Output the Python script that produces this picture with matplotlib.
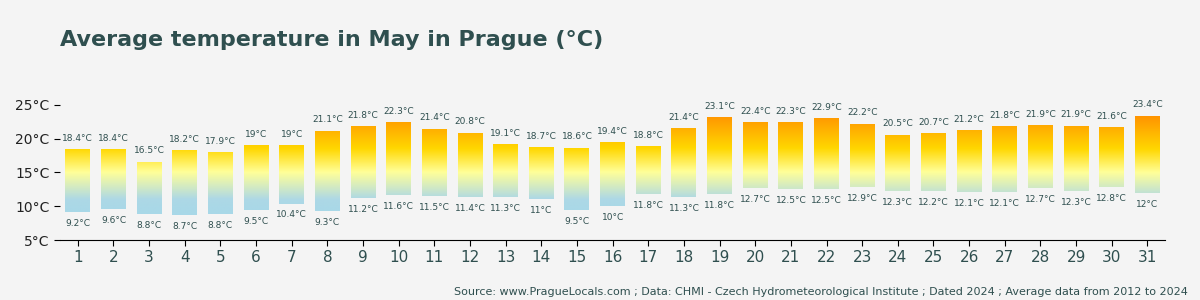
import numpy as np
import matplotlib
matplotlib.use("Agg")
import matplotlib.pyplot as plt
from matplotlib.colors import LinearSegmentedColormap, Normalize

days = list(range(1, 32))
t_max = [18.4, 18.4, 16.5, 18.2, 17.9, 19, 19, 21.1, 21.8, 22.3, 21.4, 20.8, 19.1, 18.7, 18.6,
         19.4, 18.8, 21.4, 23.1, 22.4, 22.3, 22.9, 22.2, 20.5, 20.7, 21.2, 21.8, 21.9, 21.9, 21.6, 23.4]
t_min = [9.2, 9.6, 8.8, 8.7, 8.8, 9.5, 10.4, 9.3, 11.2, 11.6, 11.5, 11.4, 11.3, 11, 9.5,
         10, 11.8, 11.3, 11.8, 12.7, 12.5, 12.5, 12.9, 12.3, 12.2, 12.1, 12.1, 12.7, 12.3, 12.8, 12]
y_ticks = [5, 10, 15, 20, 25]
title = "Average temperature in May in Prague (°C)"
source = ("Source: www.PragueLocals.com ; Data: CHMI - Czech Hydrometeorological Institute ; "
          "Dated 2024 ; Average data from 2012 to 2024")

bg = "#f4f4f4"
dark = "#2f4f4f"

tmin_c, tmax_c = 9.0, 24.0
def pos(v):
    return (v - tmin_c) / (tmax_c - tmin_c)
cmap = LinearSegmentedColormap.from_list("temp", [
    (0.0, "#a8d8e8"),
    (pos(11.0), "#add8e6"),
    (pos(15.0), "#ffff99"),
    (pos(18.5), "#ffd700"),
    (1.0, "#ff8c00"),
])
norm = Normalize(tmin_c, tmax_c)

fig = plt.figure(figsize=(12, 3), dpi=100, facecolor=bg)
ax = fig.add_axes([0.05, 0.2, 0.921, 0.495])
ax.set_facecolor(bg)

width = 0.7
grad = np.linspace(0, 1, 256).reshape(-1, 1)
for d, lo, hi in zip(days, t_min, t_max):
    vals = lo + grad * (hi - lo)
    ax.imshow(vals, cmap=cmap, norm=norm, origin="lower", aspect="auto",
              extent=[d - width / 2, d + width / 2, lo, hi], interpolation="bilinear", zorder=2)
    ax.annotate(f"{hi:g}°C", (d, hi), xytext=(0, 5), textcoords="offset points",
                ha="center", va="bottom", fontsize=6.5, color=dark)
    ax.annotate(f"{lo:g}°C", (d, lo), xytext=(0, -5), textcoords="offset points",
                ha="center", va="top", fontsize=6.5, color=dark)

ax.set_xlim(0.5, 31.5)
ax.set_ylim(5, 27)
ax.set_xticks(days)
ax.set_xticklabels([str(d) for d in days], fontsize=11, color=dark)
ax.set_yticks(y_ticks)
ax.set_yticklabels([f"{v}°C" for v in y_ticks], fontsize=10, color="#222222")
for s in ["top", "right", "left"]:
    ax.spines[s].set_visible(False)
ax.spines["bottom"].set_color("black")
ax.tick_params(axis="both", length=4)

fig.text(0.05, 0.865, title, fontsize=16, fontweight="bold", color=dark, ha="left", va="center")
fig.text(0.99, 0.027, source, fontsize=8, color=dark, ha="right", va="center")

fig.savefig("out.png", dpi=100, facecolor=bg)
